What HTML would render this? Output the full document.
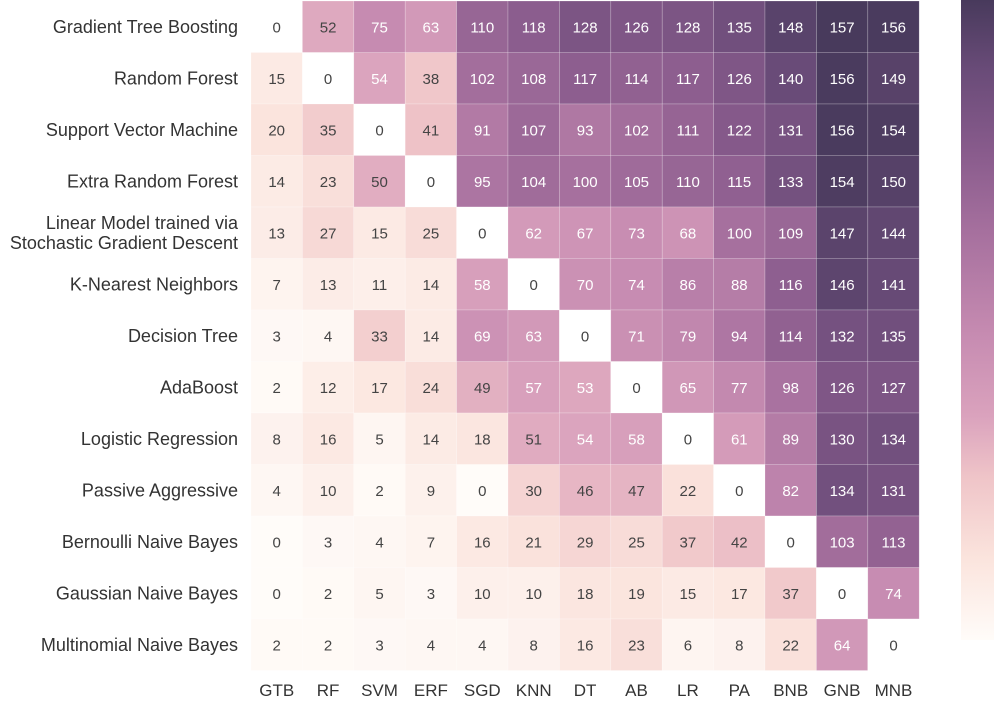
<!DOCTYPE html>
<html><head><meta charset="utf-8"><style>
body{margin:0;background:#fff;width:999px;height:699px;overflow:hidden;font-family:"Liberation Sans",sans-serif}
</style></head><body>
<svg id="chart" width="999" height="699" xmlns="http://www.w3.org/2000/svg">
<defs><linearGradient id="cb" x1="0" y1="1" x2="0" y2="0"></linearGradient></defs>
</svg>
<script>
const rowLabels=["Gradient Tree Boosting","Random Forest","Support Vector Machine","Extra Random Forest","Linear Model trained via|Stochastic Gradient Descent","K-Nearest Neighbors","Decision Tree","AdaBoost","Logistic Regression","Passive Aggressive","Bernoulli Naive Bayes","Gaussian Naive Bayes","Multinomial Naive Bayes"];
const colLabels=["GTB","RF","SVM","ERF","SGD","KNN","DT","AB","LR","PA","BNB","GNB","MNB"];
const values=[
[0,52,75,63,110,118,128,126,128,135,148,157,156],
[15,0,54,38,102,108,117,114,117,126,140,156,149],
[20,35,0,41,91,107,93,102,111,122,131,156,154],
[14,23,50,0,95,104,100,105,110,115,133,154,150],
[13,27,15,25,0,62,67,73,68,100,109,147,144],
[7,13,11,14,58,0,70,74,86,88,116,146,141],
[3,4,33,14,69,63,0,71,79,94,114,132,135],
[2,12,17,24,49,57,53,0,65,77,98,126,127],
[8,16,5,14,18,51,54,58,0,61,89,130,134],
[4,10,2,9,0,30,46,47,22,0,82,134,131],
[0,3,4,7,16,21,29,25,37,42,0,103,113],
[0,2,5,3,10,10,18,19,15,17,37,0,74],
[2,2,3,4,4,8,16,23,6,8,22,64,0]];
const stopVals=[0,20,40,55,75,100,120,140,157];
const stopCols=["#fffcf9","#fbe4dd","#efc4c8","#daa2bd","#c68bb1","#a6709e","#885b8c","#694b78","#483a5c"];
const svg=document.getElementById('chart');const NS="http://www.w3.org/2000/svg";
const x0=251,y0=1,cw=51.4,ch=51.5,vmax=157;
function hex(c){return [1,3,5].map(i=>parseInt(c.substr(i,2),16));}
function color(v){for(let i=1;i<stopVals.length;i++){if(v<=stopVals[i]){const t=(v-stopVals[i-1])/(stopVals[i]-stopVals[i-1]);const a=hex(stopCols[i-1]),b=hex(stopCols[i]);return "rgb("+a.map((q,k)=>Math.round(q+(b[k]-q)*t)).join(",")+")";}}return stopCols[stopCols.length-1];}
function xs(j){return x0+j*cw;} function ys(i){return y0+i*ch;}
function mk(tag,attrs){const e=document.createElementNS(NS,tag);for(const k in attrs)e.setAttribute(k,attrs[k]);return e;}
values.forEach((row,i)=>row.forEach((v,j)=>{
 const r=mk('rect',{x:xs(j),y:ys(i),width:cw,height:ch,fill:(i===j?'#ffffff':color(v)),stroke:'rgba(255,255,255,0.35)','stroke-width':0.6});
 
 
 svg.appendChild(r);
 const t=mk('text',{x:xs(j)+cw/2,y:ys(i)+ch/2+5.5,'text-anchor':'middle','font-size':15,fill:(v>=53?'#ffffff':'#444444')});
 t.textContent=v;
 
 
 svg.appendChild(t);
}));
rowLabels.forEach((l,i)=>{
 const parts=l.split('|');
 const t=mk('text',{x:238,y:ys(i)+ch/2+6-(parts.length-1)*10,'text-anchor':'end','font-size':18,fill:'#333'});
 parts.forEach((p,k)=>{const s=mk('tspan',{x:238,dy:k?20:0});s.textContent=p;t.appendChild(s);});
 
 
 svg.appendChild(t);
});
colLabels.forEach((l,j)=>{
 const t=mk('text',{x:xs(j)+cw/2,y:696,'text-anchor':'middle','font-size':17,fill:'#333'});
 t.textContent=l;
 
 
 svg.appendChild(t);
});
const g=document.getElementById('cb');
stopVals.forEach((v,k)=>{g.appendChild(mk('stop',{offset:v/vmax,'stop-color':stopCols[k]}));});
const cb=mk('rect',{x:961,y:0,width:33,height:640,fill:'url(#cb)'});


svg.appendChild(cb);
</script>
</body></html>
